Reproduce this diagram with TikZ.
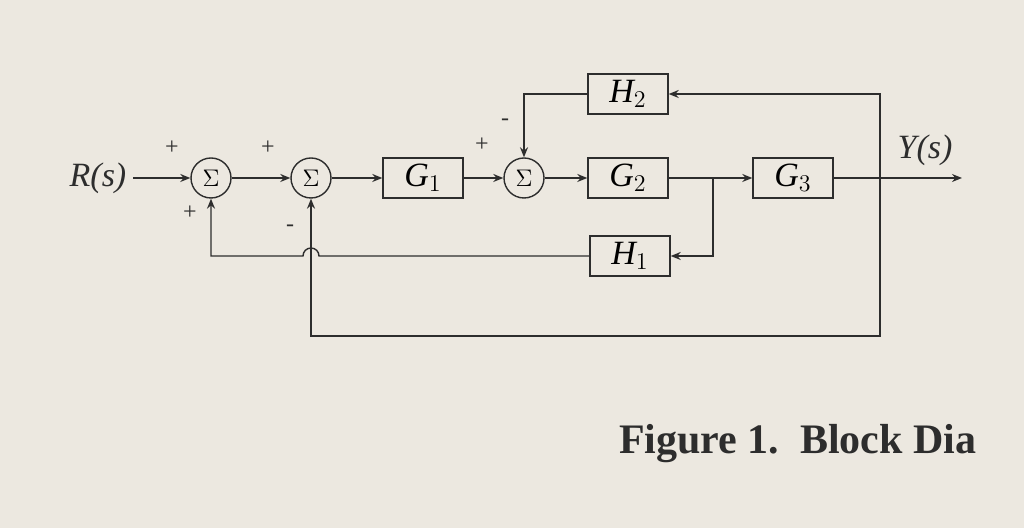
\documentclass[tikz,border=0pt]{standalone}
\usepackage{fontspec}
\setmainfont{Liberation Serif}
\usetikzlibrary{arrows.meta}
\definecolor{paper}{RGB}{236,232,224}
\definecolor{ink}{RGB}{45,45,45}
\begin{document}
\begin{tikzpicture}[x=0.5pt,y=-0.5pt,
  blk/.style={draw=ink,line width=0.7pt,minimum width=40pt,minimum height=20pt,inner sep=0pt,font=\fontsize{17}{17}\selectfont\itshape},
  sumn/.style={draw=ink,circle,line width=0.7pt,minimum size=20pt,inner sep=0pt,font=\fontsize{13}{13}\selectfont},
  sig/.style={font=\fontsize{12}{12}\selectfont,text=ink},
  wire/.style={draw=ink,line width=0.7pt},
  arr/.style={wire,-{Stealth[length=5pt,width=4pt]}}]
\fill[paper] (0,0) rectangle (1024,528);
\useasboundingbox (0,0) rectangle (1024,528);
\node[text=ink,font=\fontsize{17}{17}\selectfont\itshape] (R) at (98,178) {R(s)};
\node[sumn] (s1) at (211,178) {$\Sigma$};
\node[sumn] (s2) at (311,178) {$\Sigma$};
\node[blk] (g1) at (423,178) {G$_1$};
\node[sumn] (s3) at (524,178) {$\Sigma$};
\node[blk] (g2) at (628,178) {G$_2$};
\node[blk] (g3) at (793,178) {G$_3$};
\node[blk] (h2) at (628,94) {H$_2$};
\node[blk] (h1) at (630,256) {H$_1$};
\node[text=ink,font=\fontsize{17}{17}\selectfont\itshape] (Y) at (925,150) {Y(s)};
\coordinate (yend) at (962,178);
\coordinate (br) at (713,178);
\coordinate (ob) at (880,178);
\coordinate (lb) at (311,336);
\draw[arr] (R) -- (s1);
\draw[arr] (s1) -- (s2);
\draw[arr] (s2) -- (g1);
\draw[arr] (g1) -- (s3);
\draw[arr] (s3) -- (g2);
\draw[arr] (g2.east) -- (g3.west);
\draw[arr] (g3.east) -- (yend);
\draw[arr] (br) |- (h1.east);
\draw[arr] (ob) |- (h2.east);
\draw[arr] (h2.west) -| (s3.north);
\draw[arr] (h1.west) -- (319,256) arc (0:-180:8) -- (211,256) -- (s1.south);
\draw[arr] (ob) |- (lb) -- (s2.south);
\node[sig] at (172,148) {+};
\node[sig] at (190,213) {+};
\node[sig] at (268,148) {+};
\node[sig] at (290,228) {-};
\node[sig] at (482,145) {+};
\node[sig] at (505,122) {-};
\node[anchor=west,text=ink,font=\fontsize{21}{21}\selectfont\bfseries] (cap) at (612,444) {Figure 1.\ \ Block Dia};
\end{tikzpicture}
\end{document}
